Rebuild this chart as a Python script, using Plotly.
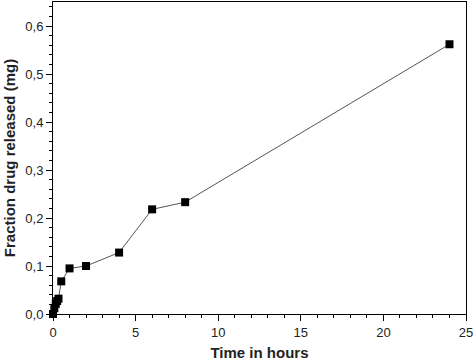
import plotly.graph_objects as go

time_h = [0, 0.083, 0.167, 0.25, 0.333, 0.5, 1, 2, 4, 6, 8, 24]
released_mg = [0.0, 0.012, 0.021, 0.027, 0.032, 0.068, 0.095, 0.100, 0.128, 0.218, 0.233, 0.562]
x_title = "Time in hours"
y_title = "Fraction drug released (mg)"

fig = go.Figure()
fig.add_trace(go.Scatter(
    x=time_h, y=released_mg, mode="lines+markers",
    line=dict(color="#555555", width=1),
    marker=dict(symbol="square", size=8, color="black"),
    showlegend=False, cliponaxis=False,
))

font = dict(family="Liberation Sans, Arial, sans-serif", color="#222222")
fig.update_layout(
    width=474, height=361,
    margin=dict(l=53, r=8, t=2, b=47),
    paper_bgcolor="white", plot_bgcolor="white",
    separators=",.",
    font=dict(size=13, **font),
)
fig.update_xaxes(
    range=[0, 25], tickvals=[0, 5, 10, 15, 20, 25], automargin=False,
    ticks="outside", ticklen=6, tickwidth=1, tickcolor="black",
    minor=dict(dtick=1, ticks="outside", ticklen=3, tickcolor="black"),
    showline=True, linecolor="black", linewidth=1, mirror=True,
    showgrid=False, zeroline=False,
    title=dict(text="<b>" + x_title + "</b>", font=dict(size=15), standoff=8),
    tickfont=dict(size=13),
)
fig.update_yaxes(
    range=[0, 0.65], tickvals=[0, 0.1, 0.2, 0.3, 0.4, 0.5, 0.6], tickformat=".1f",
    automargin=False,
    ticks="outside", ticklen=6, tickwidth=1, tickcolor="black",
    minor=dict(dtick=0.02, ticks="outside", ticklen=3, tickcolor="black"),
    showline=True, linecolor="black", linewidth=1, mirror=True,
    showgrid=False, zeroline=False,
    title=dict(text="<b>" + y_title + "</b>", font=dict(size=15), standoff=6),
    tickfont=dict(size=13),
)
fig.write_html("out.html", config={"displayModeBar": False},
               post_script="document.body.style.margin='0';document.body.style.padding='0';")
